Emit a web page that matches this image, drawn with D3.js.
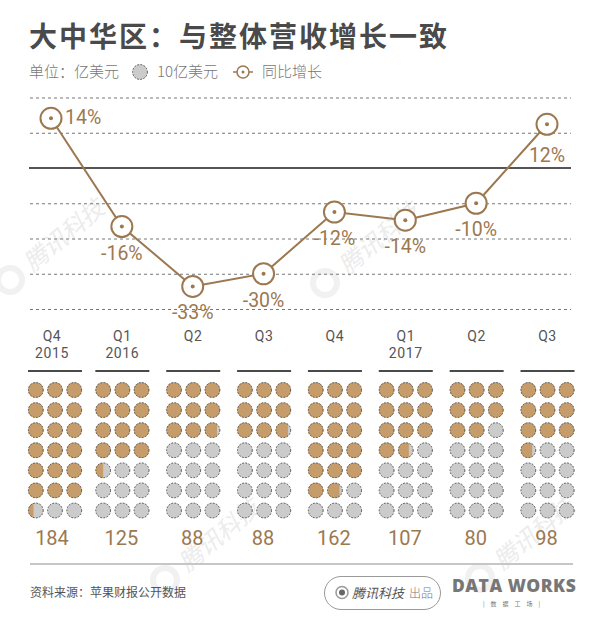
<!DOCTYPE html>
<html>
<head>
<meta charset="utf-8">
<script src="https://cdnjs.cloudflare.com/ajax/libs/d3/7.8.5/d3.min.js"></script>
<style>
html, body { margin: 0; padding: 0; background: #fff; }
svg { display: block; }
text { font-family: "Noto Sans CJK SC", sans-serif; }
.num { font-family: "Roboto", "Noto Sans", sans-serif; font-weight: 400; }
</style>
</head>
<body>
<div id="chart"></div>
<script>
var quarters = ["Q4 2015", "Q1 2016", "Q2 2016", "Q3 2016", "Q4 2016", "Q1 2017", "Q2 2017", "Q3 2017"];
var quarterLabels = ["Q4", "Q1", "Q2", "Q3", "Q4", "Q1", "Q2", "Q3"];
var yearLabels = ["2015", "2016", "", "", "", "2017", "", ""];
// height of each point
var growthPlotted = [14.1, -16.6, -33.6, -30, -12.5, -14.8, -10, 12.4];
var growthLabels = ["14%", "-16%", "-33%", "-30%", "-12%", "-14%", "-10%", "12%"];
var revenueLabels = ["184", "125", "88", "88", "162", "107", "80", "98"];
// tan share of the dots as drawn, in billions (Q4 2016 is drawn fuller than its label)
var dotsFilled = [18.35, 12.5, 8.8, 8.8, 16.8, 10.7, 8, 9.75];
var gridTicks = [20, 10, -10, -20, -30, -40];

var TAN = "#9c7850", FILL = "#c69c6a", GREY = "#cbcbcb", DARK = "#4a4a4a";

var svg = d3.select("#chart").append("svg").attr("width", 601).attr("height", 625);
var defs = svg.append("defs");

// watermarks go underneath everything
function watermark(cx, cy) {
	var g = svg.append("g").attr("transform", "translate(" + cx + "," + cy + ") rotate(-40)");
	g.append("circle").attr("r", 12).attr("fill", "none").attr("stroke", "#f1f1f1").attr("stroke-width", 6);
	g.append("text").attr("x", 22).attr("y", 9).attr("font-size", 24).attr("font-style", "italic").attr("font-weight", 400)
		.attr("fill", "#ececec").text("腾讯科技");
}
watermark(10, 280);
watermark(325, 283);
watermark(165, 580);
watermark(480, 578);

// title and legend
svg.append("text").attr("x", 29).attr("y", 47).attr("font-size", 28).attr("font-weight", 700)
	.attr("letter-spacing", 2).attr("fill", DARK).text("大中华区：与整体营收增长一致");
var legendY = 77;
var legendFont = 15;
svg.append("text").attr("x", 29).attr("y", legendY).attr("font-size", legendFont).attr("font-weight", 300).attr("fill", "#777").text("单位：亿美元");
svg.append("circle").attr("cx", 140).attr("cy", 72).attr("r", 7.7).attr("fill", GREY);
svg.append("circle").attr("cx", 140).attr("cy", 72).attr("r", 7.4).attr("fill", "none")
	.attr("stroke", "#555").attr("stroke-width", 1).attr("stroke-dasharray", "1.6 1.6");
svg.append("text").attr("x", 157).attr("y", legendY).attr("font-size", legendFont).attr("font-weight", 300).attr("fill", "#777").text("10亿美元");
svg.append("line").attr("x1", 233).attr("x2", 253).attr("y1", 72).attr("y2", 72).attr("stroke", TAN).attr("stroke-width", 1.5);
svg.append("circle").attr("cx", 243).attr("cy", 72).attr("r", 6).attr("fill", "#fff").attr("stroke", TAN).attr("stroke-width", 1.5);
svg.append("circle").attr("cx", 243).attr("cy", 72).attr("r", 1.5).attr("fill", TAN);
svg.append("text").attr("x", 262).attr("y", legendY).attr("font-size", legendFont).attr("font-weight", 300).attr("fill", "#777").text("同比增长");

// line chart
var x = d3.scalePoint().domain(quarters).range([51, 547]);
var y = d3.scaleLinear().domain([-40, 20]).range([309, 97.5]);

svg.selectAll("line.grid").data(gridTicks).enter().append("line")
	.attr("class", "grid")
	.attr("x1", 30).attr("x2", 571)
	.attr("y1", function(d) { return y(d) + 0.5; })
	.attr("y2", function(d) { return y(d) + 0.5; })
	.attr("stroke", "#777").attr("stroke-width", 1).attr("stroke-dasharray", "3 3");
svg.append("line").attr("x1", 29).attr("x2", 571).attr("y1", y(0)).attr("y2", y(0))
	.attr("stroke", "#555").attr("stroke-width", 2);

var line = d3.line()
	.x(function(d, i) { return x(quarters[i]); })
	.y(function(d) { return y(d); });
svg.append("path").datum(growthPlotted).attr("d", line)
	.attr("fill", "none").attr("stroke", TAN).attr("stroke-width", 2);

var points = svg.selectAll("g.pt").data(growthPlotted).enter().append("g")
	.attr("class", "pt")
	.attr("transform", function(d, i) { return "translate(" + x(quarters[i]) + "," + y(d) + ")"; });
points.append("circle").attr("r", 10.5).attr("fill", "#fff").attr("stroke", TAN).attr("stroke-width", 2);
points.append("circle").attr("r", 2).attr("fill", TAN);
points.append("text")
	.attr("class", "num")
	.attr("text-anchor", function(d, i) { return i === 0 ? "start" : "middle"; })
	.attr("x", function(d, i) { return i === 0 ? 14 : 0; })
	.attr("y", function(d, i) { return i === 0 ? 6 : (i === 7 ? 38 : 33); })
	.attr("font-size", 19.5).attr("fill", TAN)
	.text(function(d, i) { return growthLabels[i]; });

// one column of dots per quarter
function colCentre(i) {
	return x(quarters[i]) + (i === 0 ? 4 : 0.5);
}
var rows = d3.range(7), cols = d3.range(3);
var rowY = d3.scalePoint().domain(rows).range([390, 510.5]);
var colX = d3.scalePoint().domain(cols).range([-19.2, 19.2]);
var dotR = 7.7;

quarters.forEach(function(q, i) {
	var cx = colCentre(i);
	var labelX = i === 0 ? cx - 3 : cx;
	svg.append("text").attr("class", "num").attr("x", labelX).attr("y", 341).attr("text-anchor", "middle")
		.attr("font-size", 14).attr("letter-spacing", 0.6).attr("fill", "#555").text(quarterLabels[i]);
	if (yearLabels[i])
		svg.append("text").attr("class", "num").attr("x", labelX).attr("y", 358).attr("text-anchor", "middle")
			.attr("font-size", 14).attr("letter-spacing", 0.6).attr("fill", "#555").text(yearLabels[i]);
	svg.append("line").attr("x1", cx - 27).attr("x2", cx + 27).attr("y1", 371).attr("y2", 371)
		.attr("stroke", DARK).attr("stroke-width", 2);

	var cells = [];
	rows.forEach(function(r) {
		cols.forEach(function(c) { cells.push({ r: r, c: c, n: cells.length }); });
	});
	cells.forEach(function(cell) {
		var px = cx + colX(cell.c), py = rowY(cell.r);
		var share = Math.max(0, Math.min(1, dotsFilled[i] - cell.n));
		svg.append("circle").attr("cx", px).attr("cy", py).attr("r", dotR).attr("fill", GREY);
		if (share > 0) {
			var id = "clip" + i + "_" + cell.n;
			defs.append("clipPath").attr("id", id).append("rect")
				.attr("x", px - dotR).attr("y", py - dotR)
				.attr("width", 2 * dotR * share).attr("height", 2 * dotR);
			svg.append("circle").attr("cx", px).attr("cy", py).attr("r", dotR).attr("fill", FILL)
				.attr("clip-path", "url(#" + id + ")");
		}
		// dashes sit just inside the fill edge so the gaps stay filled
		svg.append("circle").attr("cx", px).attr("cy", py).attr("r", dotR - 0.3).attr("fill", "none")
			.attr("stroke", "#555").attr("stroke-width", 1).attr("stroke-dasharray", "1.6 1.6");
	});

	svg.append("text").attr("class", "num").attr("x", labelX + (i === 0 ? 0 : -1)).attr("y", 545).attr("text-anchor", "middle")
		.attr("font-size", 20).attr("fill", TAN).text(revenueLabels[i]);
});

// footer
svg.append("line").attr("x1", 30).attr("x2", 573).attr("y1", 564).attr("y2", 564).attr("stroke", "#c6c6c6").attr("stroke-width", 2);
svg.append("text").attr("x", 30).attr("y", 596.5).attr("font-size", 12).attr("fill", "#555").text("资料来源：苹果财报公开数据");
svg.append("rect").attr("x", 324.5).attr("y", 576.5).attr("width", 116).attr("height", 33).attr("rx", 16.5)
	.attr("fill", "#fff").attr("stroke", "#999").attr("stroke-width", 1);
svg.append("circle").attr("cx", 342).attr("cy", 592.5).attr("r", 6).attr("fill", "#fff").attr("stroke", "#999").attr("stroke-width", 1.5);
svg.append("circle").attr("cx", 342).attr("cy", 592.5).attr("r", 3).attr("fill", "#666");
svg.append("text").attr("x", 352).attr("y", 597.5).attr("font-size", 13).attr("font-style", "italic").attr("font-weight", 400).attr("fill", "#555").text("腾讯科技");
svg.append("text").attr("x", 409).attr("y", 597.5).attr("font-size", 12).attr("font-weight", 300).attr("fill", "#777").text("出品");
svg.append("text").attr("x", 452).attr("y", 592).attr("font-size", 17.5).attr("font-weight", 800).attr("letter-spacing", 0.5)
	.attr("fill", "#777").style("font-family", "'Open Sans', sans-serif").text("DATA WORKS");
svg.append("text").attr("x", 514.5).attr("y", 606).attr("text-anchor", "middle").attr("font-size", 6).attr("letter-spacing", 6).attr("fill", "#777")
	.text("|数据工场|");
</script>
</body>
</html>
